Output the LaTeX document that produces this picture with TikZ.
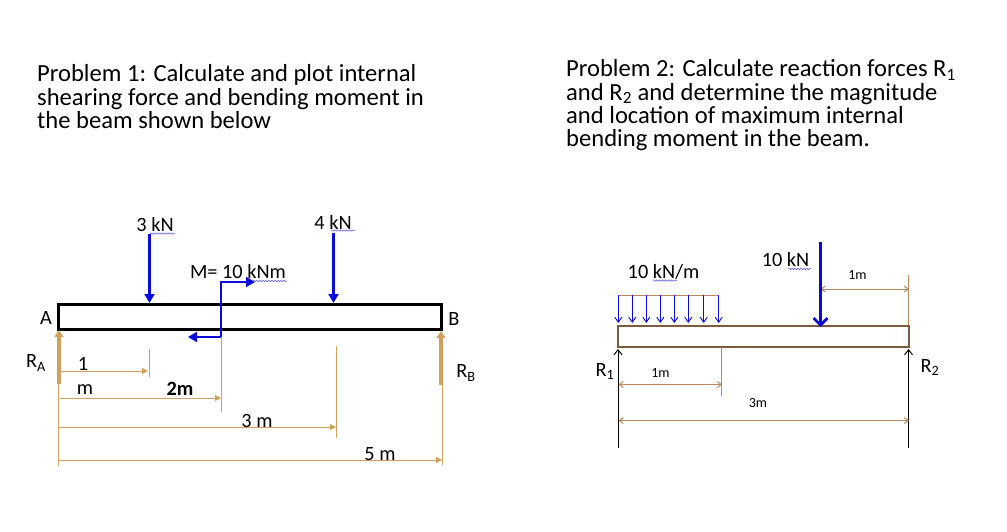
\documentclass[tikz,border=0pt]{standalone}
\usepackage{fontspec}
\setmainfont{Carlito}
\usetikzlibrary{arrows.meta,decorations.pathmorphing}
\definecolor{tan1}{HTML}{D0A060}
\definecolor{tan2}{HTML}{B8895F}
\definecolor{brown1}{HTML}{7A5C40}
\definecolor{blue1}{HTML}{0A0AD8}
\tikzset{
  lab/.style={inner sep=0pt,font=\fontsize{20.3}{20}\selectfont},
  labs/.style={inner sep=0pt,font=\fontsize{14}{14}\selectfont},
  title/.style={inner sep=0pt,anchor=north west,align=left,font=\fontsize{24.6}{23.3}\selectfont},
  beamA/.style={draw=black,line width=3pt,minimum width=383pt,minimum height=25pt,inner sep=0pt},
  beamB/.style={draw=brown1,line width=2pt,minimum width=291pt,minimum height=21pt,inner sep=0pt},
  load/.style={draw=blue1,line width=2.6pt,-{Triangle[length=9pt,width=10pt]}},
  loadthin/.style={draw=blue1,line width=0.9pt,-{Straight Barb[length=5pt,width=7pt]}},
  react/.style={draw=tan1,line width=3.2pt,-{Triangle[length=7pt,width=9pt]}},
  dimA/.style={draw=tan1,line width=1pt,-{Triangle[length=6pt,width=6pt]}},
  tickA/.style={draw=tan1,line width=1pt},
  dimB/.style={draw=tan2,line width=1pt,{Straight Barb[length=4pt,width=6pt]}-{Straight Barb[length=4pt,width=6pt]}},
  tickB/.style={draw=tan2,line width=1pt},
  reactB/.style={draw=black,line width=1pt,-{Straight Barb[length=5pt,width=8pt]}},
  squig/.style={draw=blue1!70,line width=0.5pt,decorate,decoration={snake,amplitude=0.7pt,segment length=3pt}},
}
\begin{document}
\begin{tikzpicture}[x=1pt,y=-1pt]
\useasboundingbox (0,0) rectangle (1007,531);
% titles
\node[title] (t1) at (37,64.5) {Problem 1: Calculate and plot internal\\shearing force and bending moment in\\the beam shown below};
\node[title] (t2) at (566,59.5) {Problem 2: Calculate reaction forces R\textsubscript{1}\\and R\textsubscript{2} and determine the magnitude\\and location of maximum internal\\bending moment in the beam.};
% ---------- beam 1
\node[beamA] (b1) at (249.5,316.5) {};
\coordinate (f3a) at (149.5,234); \coordinate (f3b) at (149.5,303);
\coordinate (f4a) at (333.5,233); \coordinate (f4b) at (333.5,303);
\coordinate (mt) at (221,282); \coordinate (mb) at (221,337);
\coordinate (mtr) at (255,282); \coordinate (mbl) at (188,337);
\draw[load] (mb) -- (mt) -- (mtr);
\draw[load] (mb) -- (mbl);
\draw[load] (f3a) -- (f3b);
\draw[load] (f4a) -- (f4b);
% dims beam 1
\coordinate (d1a) at (59,371); \coordinate (d1b) at (148,371);
\coordinate (d2a) at (60,398); \coordinate (d2b) at (221,398);
\coordinate (d3a) at (59,427); \coordinate (d3b) at (336,427);
\coordinate (d5a) at (58,460); \coordinate (d5b) at (442,460);
\draw[dimA] (d1a) -- (d1b);
\draw[dimA] (d2a) -- (d2b);
\draw[dimA] (d3a) -- (d3b);
\draw[dimA] (d5a) -- (d5b);
\coordinate (k1a) at (149.5,349); \coordinate (k1b) at (149.5,377);
\coordinate (k2a) at (221,338); \coordinate (k2b) at (221,412);
\coordinate (k3a) at (336.5,346); \coordinate (k3b) at (336.5,438);
\coordinate (kLa) at (58,384); \coordinate (kLb) at (58,466);
\coordinate (kRa) at (442,385); \coordinate (kRb) at (442,465);
\draw[tickA] (k1a) -- (k1b);
\draw[tickA] (k2a) -- (k2b);
\draw[tickA] (k3a) -- (k3b);
\draw[tickA] (kLa) -- (kLb);
\draw[tickA] (kRa) -- (kRb);
\coordinate (ra0) at (59,384); \coordinate (ra1) at (59,330);
\coordinate (rb0) at (441,385); \coordinate (rb1) at (441,331);
\draw[react] (ra0) -- (ra1);
\draw[react] (rb0) -- (rb1);
% labels beam 1
\node[lab] (l3) at (155,224.5) {3 kN};
\node[lab] (l4) at (333,222) {4 kN};
\node[lab] (lm) at (238,272) {M= 10 kNm};
\node[lab] (la) at (46,318) {A};
\node[lab] (lb) at (454,319) {B};
\node[lab] (lra) at (36,363) {R\textsubscript{A}};
\node[lab] (lrb) at (466,373) {R\textsubscript{B}};
\node[lab] (l1) at (83,364) {1};
\node[lab] (l1m) at (85,390) {m};
\node[lab,font=\fontsize{20.3}{20}\selectfont\bfseries] (l2m) at (180,389) {2m};
\node[lab] (l3m) at (257,421) {3 m};
\node[lab] (l5m) at (380,454) {5 m};
\coordinate (s1a) at (150,233.5); \coordinate (s1b) at (175,233.5);
\coordinate (s2a) at (331,230.5); \coordinate (s2b) at (355,230.5);
\coordinate (s3a) at (253,281); \coordinate (s3b) at (287,281);
\draw[squig] (s1a) -- (s1b);
\draw[squig] (s2a) -- (s2b);
\draw[squig] (s3a) -- (s3b);
% ---------- beam 2
\node[beamB] (b2) at (763.5,336.5) {};
\coordinate (pa) at (618,295); \coordinate (pb) at (718.5,295);
\draw[draw=tan2,line width=1pt] (pa) -- (pb);
\foreach \i/\x in {1/618.3,2/632.3,3/646.3,4/660.3,5/674.3,6/688.3,7/703.7,8/718.7}{
  \coordinate (q\i a) at (\x,295); \coordinate (q\i b) at (\x,323);
  \draw[loadthin] (q\i a) -- (q\i b);
}
\coordinate (r1a) at (618,448); \coordinate (r1b) at (618,349);
\coordinate (r2a) at (908.5,448); \coordinate (r2b) at (908.5,349);
\draw[reactB] (r1a) -- (r1b);
\draw[reactB] (r2a) -- (r2b);
\coordinate (e1a) at (820.5,289); \coordinate (e1b) at (909,289);
\coordinate (e2a) at (618.5,384.5); \coordinate (e2b) at (722,384.5);
\coordinate (e3a) at (618.5,420.5); \coordinate (e3b) at (909,420.5);
\draw[dimB] (e1a) -- (e1b);
\draw[dimB] (e2a) -- (e2b);
\draw[dimB] (e3a) -- (e3b);
\coordinate (g1a) at (908.5,275); \coordinate (g1b) at (908.5,325);
\coordinate (g2a) at (721.5,347); \coordinate (g2b) at (721.5,396);
\draw[tickB] (g1a) -- (g1b);
\draw[tickB] (g2a) -- (g2b);
\coordinate (f10a) at (820.5,242); \coordinate (f10b) at (820.5,327);
\draw[draw=blue1,line width=2.8pt,-{Straight Barb[length=7pt,width=14pt]}] (f10a) -- (f10b);
\node[lab] (l10q) at (663.5,272) {10 kN/m};
\node[lab] (l10) at (785.5,259.5) {10 kN};
\node[labs] (l1r) at (857.5,274.5) {1m};
\node[labs] (l1l) at (660.5,372.5) {1m};
\node[labs] (l3r) at (758,403) {3m};
\node[lab] (lr1) at (605,371.5) {R\textsubscript{1}};
\node[lab] (lr2) at (930,367.5) {R\textsubscript{2}};
\coordinate (s4a) at (653,280.5); \coordinate (s4b) at (677,280.5);
\coordinate (s5a) at (788,269); \coordinate (s5b) at (811,269);
\draw[squig] (s4a) -- (s4b);
\draw[squig] (s5a) -- (s5b);
\end{tikzpicture}
\end{document}
